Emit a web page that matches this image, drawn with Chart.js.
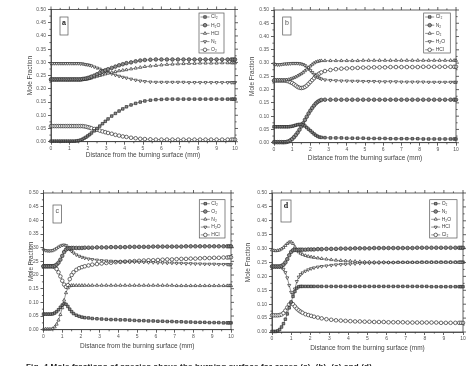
<!DOCTYPE html>
<html>
<head>
<meta charset="utf-8">
<script src="https://cdn.jsdelivr.net/npm/chart.js@4.4.1/dist/chart.umd.min.js"></script>
<style>
html, body { margin: 0; padding: 0; background: #fff; }
body { width: 474px; height: 366px; position: relative; overflow: hidden; font-family: "Liberation Sans", Arial, sans-serif; }
canvas { position: absolute; left: 0; top: 0; }
#cap { position: absolute; left: 26px; top: 362px; font-size: 8px; font-weight: bold; color: #222; white-space: nowrap; letter-spacing: 0.2px; }
</style>
</head>
<body>
<canvas id="pa" width="474" height="366"></canvas>
<canvas id="pb" width="474" height="366"></canvas>
<canvas id="pc" width="474" height="366"></canvas>
<canvas id="pd" width="474" height="366"></canvas>
<div id="cap">Fig. 4 Mole fractions of species above the burning surface for cases (a), (b), (c) and (d)</div>
<script>
// 距離 (mm) と各成分のモル分率 — 図から目で読んだ値

// --- (a) ---
const xA = [0, 0.1, 0.2, 0.3, 0.4, 0.5, 0.6, 0.7, 0.8, 0.9,
    1.0, 1.1, 1.2, 1.3, 1.4, 1.5, 1.6, 1.7, 1.8, 1.9,
    2.0, 2.1, 2.2, 2.35, 2.5, 2.65, 2.8, 2.95, 3.1, 3.3,
    3.5, 3.7, 3.9, 4.1, 4.35, 4.6, 4.85, 5.1, 5.4, 5.7,
    6.0, 6.3, 6.6, 6.9, 7.2, 7.5, 7.8, 8.1, 8.4, 8.7,
    9.0, 9.3, 9.6, 9.8, 9.9, 10];
const a_Cl2 = [0.002, 0.002, 0.002, 0.002, 0.002, 0.002, 0.002, 0.002, 0.002, 0.002,
    0.002, 0.002, 0.002, 0.002, 0.003, 0.004, 0.006, 0.009, 0.013, 0.017,
    0.022, 0.027, 0.033, 0.041, 0.050, 0.059, 0.068, 0.077, 0.086, 0.097,
    0.107, 0.116, 0.124, 0.132, 0.139, 0.145, 0.150, 0.154, 0.157, 0.159,
    0.160, 0.161, 0.161, 0.161, 0.161, 0.161, 0.161, 0.161, 0.161, 0.161,
    0.161, 0.161, 0.161, 0.161, 0.161, 0.161];
const a_H2O = [0.236, 0.236, 0.236, 0.236, 0.236, 0.236, 0.236, 0.236, 0.236, 0.236,
    0.236, 0.236, 0.236, 0.236, 0.236, 0.236, 0.236, 0.237, 0.238, 0.239,
    0.241, 0.243, 0.246, 0.250, 0.255, 0.260, 0.265, 0.270, 0.274, 0.279,
    0.284, 0.289, 0.293, 0.297, 0.300, 0.304, 0.307, 0.309, 0.310, 0.311,
    0.311, 0.311, 0.311, 0.311, 0.311, 0.311, 0.311, 0.311, 0.311, 0.311,
    0.311, 0.311, 0.311, 0.311, 0.311, 0.311];
const a_HCl = [0.233, 0.233, 0.233, 0.233, 0.233, 0.233, 0.233, 0.233, 0.233, 0.233,
    0.233, 0.233, 0.233, 0.233, 0.233, 0.233, 0.233, 0.234, 0.235, 0.236,
    0.237, 0.239, 0.241, 0.244, 0.247, 0.250, 0.253, 0.256, 0.259, 0.262,
    0.265, 0.268, 0.270, 0.272, 0.275, 0.278, 0.281, 0.284, 0.286, 0.288,
    0.290, 0.292, 0.293, 0.294, 0.295, 0.296, 0.296, 0.297, 0.297, 0.297,
    0.297, 0.298, 0.298, 0.298, 0.298, 0.298];
const a_N2 = [0.296, 0.296, 0.296, 0.296, 0.296, 0.296, 0.296, 0.296, 0.296, 0.296,
    0.296, 0.296, 0.296, 0.296, 0.296, 0.296, 0.295, 0.295, 0.293, 0.292,
    0.291, 0.289, 0.287, 0.283, 0.279, 0.275, 0.270, 0.266, 0.262, 0.257,
    0.252, 0.248, 0.244, 0.241, 0.237, 0.233, 0.230, 0.228, 0.226, 0.225,
    0.225, 0.225, 0.225, 0.225, 0.225, 0.224, 0.224, 0.224, 0.224, 0.224,
    0.224, 0.224, 0.224, 0.224, 0.224, 0.224];
const a_O2 = [0.059, 0.059, 0.059, 0.059, 0.059, 0.059, 0.059, 0.059, 0.059, 0.059,
    0.059, 0.059, 0.059, 0.059, 0.059, 0.059, 0.059, 0.059, 0.058, 0.057,
    0.055, 0.053, 0.051, 0.048, 0.045, 0.042, 0.039, 0.036, 0.033, 0.030,
    0.026, 0.023, 0.020, 0.018, 0.015, 0.013, 0.011, 0.010, 0.009, 0.008,
    0.008, 0.008, 0.008, 0.008, 0.008, 0.008, 0.008, 0.008, 0.008, 0.008,
    0.008, 0.008, 0.008, 0.008, 0.008, 0.008];

// --- (b) ---
const xB = [0, 0.1, 0.2, 0.3, 0.4, 0.5, 0.6, 0.7, 0.8, 0.9,
    1.0, 1.1, 1.2, 1.3, 1.4, 1.5, 1.6, 1.7, 1.8, 1.9,
    2.0, 2.1, 2.2, 2.3, 2.4, 2.5, 2.6, 2.8, 3.1, 3.4,
    3.7, 4.0, 4.3, 4.6, 4.9, 5.2, 5.5, 5.8, 6.1, 6.4,
    6.7, 7.0, 7.3, 7.6, 7.9, 8.2, 8.5, 8.8, 9.1, 9.4,
    9.7, 9.9, 10];
const b_Cl2 = [0.060, 0.060, 0.060, 0.060, 0.060, 0.060, 0.060, 0.060, 0.060, 0.061,
    0.062, 0.064, 0.066, 0.068, 0.069, 0.069, 0.067, 0.063, 0.057, 0.051,
    0.045, 0.039, 0.033, 0.028, 0.024, 0.021, 0.020, 0.019, 0.018, 0.018,
    0.018, 0.017, 0.017, 0.017, 0.017, 0.016, 0.016, 0.016, 0.016, 0.015,
    0.015, 0.015, 0.015, 0.015, 0.015, 0.014, 0.014, 0.014, 0.014, 0.014,
    0.014, 0.014, 0.014];
const b_N2 = [0.002, 0.002, 0.002, 0.002, 0.002, 0.002, 0.002, 0.003, 0.005, 0.009,
    0.014, 0.021, 0.029, 0.038, 0.049, 0.061, 0.073, 0.086, 0.098, 0.110,
    0.121, 0.131, 0.140, 0.148, 0.154, 0.158, 0.161, 0.162, 0.162, 0.162,
    0.162, 0.162, 0.162, 0.162, 0.162, 0.162, 0.162, 0.162, 0.162, 0.162,
    0.162, 0.162, 0.162, 0.162, 0.162, 0.162, 0.162, 0.162, 0.162, 0.162,
    0.162, 0.162, 0.162];
const b_O2 = [0.236, 0.236, 0.236, 0.236, 0.236, 0.236, 0.236, 0.237, 0.238, 0.240,
    0.242, 0.245, 0.248, 0.252, 0.256, 0.260, 0.265, 0.271, 0.277, 0.283,
    0.289, 0.295, 0.300, 0.304, 0.306, 0.308, 0.309, 0.309, 0.309, 0.309,
    0.309, 0.309, 0.309, 0.309, 0.310, 0.310, 0.310, 0.310, 0.310, 0.310,
    0.310, 0.310, 0.310, 0.310, 0.310, 0.310, 0.310, 0.310, 0.310, 0.310,
    0.310, 0.310, 0.310];
const b_H2O = [0.297, 0.295, 0.294, 0.294, 0.295, 0.296, 0.297, 0.297, 0.298, 0.298,
    0.299, 0.299, 0.299, 0.299, 0.298, 0.297, 0.295, 0.291, 0.285, 0.279,
    0.272, 0.265, 0.258, 0.252, 0.247, 0.243, 0.240, 0.237, 0.235, 0.234,
    0.233, 0.233, 0.232, 0.232, 0.231, 0.231, 0.231, 0.230, 0.230, 0.230,
    0.230, 0.229, 0.229, 0.229, 0.229, 0.229, 0.228, 0.228, 0.228, 0.228,
    0.228, 0.228, 0.228];
const b_HCl = [0.234, 0.234, 0.234, 0.234, 0.234, 0.234, 0.234, 0.233, 0.231, 0.228,
    0.225, 0.220, 0.215, 0.210, 0.207, 0.206, 0.207, 0.210, 0.215, 0.222,
    0.229, 0.236, 0.243, 0.250, 0.256, 0.261, 0.265, 0.270, 0.274, 0.277,
    0.279, 0.280, 0.281, 0.282, 0.283, 0.283, 0.284, 0.284, 0.284, 0.285,
    0.285, 0.285, 0.285, 0.285, 0.285, 0.286, 0.286, 0.286, 0.286, 0.286,
    0.286, 0.286, 0.286];

// --- (c), (d) は同じ距離の刻み ---
const xC = [0, 0.1, 0.2, 0.3, 0.4, 0.5, 0.6, 0.7, 0.8, 0.9,
    1.0, 1.1, 1.2, 1.3, 1.4, 1.5, 1.6, 1.75, 1.9, 2.05,
    2.2, 2.4, 2.6, 2.85, 3.1, 3.35, 3.6, 3.85, 4.1, 4.35,
    4.6, 4.85, 5.1, 5.35, 5.6, 5.85, 6.1, 6.35, 6.6, 6.85,
    7.1, 7.35, 7.6, 7.85, 8.1, 8.35, 8.6, 8.85, 9.1, 9.35,
    9.6, 9.8, 9.9, 10];
const c_Cl2 = [0.057, 0.057, 0.057, 0.057, 0.057, 0.058, 0.061, 0.066, 0.073, 0.082,
    0.090, 0.095, 0.093, 0.085, 0.075, 0.066, 0.059, 0.053, 0.049, 0.046,
    0.044, 0.043, 0.041, 0.040, 0.039, 0.038, 0.037, 0.037, 0.036, 0.036,
    0.035, 0.034, 0.033, 0.033, 0.032, 0.032, 0.031, 0.031, 0.030, 0.030,
    0.029, 0.029, 0.028, 0.028, 0.027, 0.027, 0.027, 0.026, 0.026, 0.026,
    0.025, 0.025, 0.025, 0.025];
const c_O2 = [0.232, 0.232, 0.232, 0.232, 0.232, 0.232, 0.234, 0.238, 0.245, 0.256,
    0.270, 0.284, 0.293, 0.297, 0.298, 0.299, 0.299, 0.299, 0.299, 0.299,
    0.300, 0.300, 0.300, 0.301, 0.301, 0.301, 0.302, 0.302, 0.302, 0.302,
    0.303, 0.303, 0.303, 0.303, 0.303, 0.304, 0.304, 0.304, 0.304, 0.304,
    0.304, 0.304, 0.305, 0.305, 0.305, 0.305, 0.305, 0.305, 0.305, 0.305,
    0.305, 0.305, 0.305, 0.305];
const c_N2 = [0.002, 0.002, 0.002, 0.002, 0.002, 0.004, 0.010, 0.020, 0.035, 0.055,
    0.080, 0.108, 0.135, 0.153, 0.160, 0.162, 0.162, 0.162, 0.162, 0.162,
    0.162, 0.162, 0.162, 0.162, 0.162, 0.162, 0.162, 0.162, 0.162, 0.162,
    0.162, 0.162, 0.162, 0.162, 0.162, 0.162, 0.162, 0.162, 0.162, 0.162,
    0.161, 0.161, 0.161, 0.161, 0.161, 0.161, 0.161, 0.161, 0.161, 0.161,
    0.161, 0.161, 0.161, 0.161];
const c_H2O = [0.292, 0.290, 0.289, 0.288, 0.289, 0.290, 0.293, 0.297, 0.302, 0.306,
    0.309, 0.310, 0.308, 0.302, 0.294, 0.287, 0.281, 0.274, 0.269, 0.265,
    0.262, 0.259, 0.257, 0.255, 0.253, 0.252, 0.251, 0.250, 0.249, 0.249,
    0.248, 0.248, 0.247, 0.247, 0.246, 0.246, 0.245, 0.245, 0.244, 0.244,
    0.243, 0.243, 0.242, 0.242, 0.241, 0.241, 0.240, 0.240, 0.240, 0.239,
    0.239, 0.239, 0.238, 0.238];
const c_HCl = [0.232, 0.232, 0.232, 0.232, 0.232, 0.232, 0.229, 0.222, 0.210, 0.195,
    0.179, 0.165, 0.157, 0.163, 0.185, 0.200, 0.210, 0.219, 0.225, 0.229,
    0.232, 0.235, 0.238, 0.240, 0.242, 0.244, 0.245, 0.247, 0.248, 0.249,
    0.250, 0.251, 0.252, 0.253, 0.254, 0.254, 0.255, 0.256, 0.257, 0.257,
    0.258, 0.259, 0.259, 0.260, 0.260, 0.261, 0.262, 0.262, 0.263, 0.263,
    0.264, 0.264, 0.265, 0.265];

const d_O2 = [0.002, 0.002, 0.002, 0.004, 0.009, 0.018, 0.030, 0.046, 0.065, 0.087,
    0.108, 0.128, 0.146, 0.158, 0.163, 0.164, 0.164, 0.164, 0.164, 0.164,
    0.164, 0.164, 0.164, 0.164, 0.164, 0.164, 0.164, 0.164, 0.164, 0.164,
    0.164, 0.164, 0.164, 0.164, 0.164, 0.164, 0.164, 0.164, 0.164, 0.164,
    0.164, 0.164, 0.164, 0.164, 0.164, 0.163, 0.163, 0.163, 0.163, 0.163,
    0.163, 0.163, 0.163, 0.163];
const d_N2 = [0.236, 0.236, 0.236, 0.236, 0.236, 0.238, 0.242, 0.250, 0.262, 0.276,
    0.288, 0.294, 0.295, 0.295, 0.296, 0.296, 0.296, 0.296, 0.297, 0.297,
    0.297, 0.298, 0.298, 0.299, 0.299, 0.299, 0.300, 0.300, 0.300, 0.301,
    0.301, 0.301, 0.301, 0.302, 0.302, 0.302, 0.302, 0.302, 0.302, 0.302,
    0.302, 0.302, 0.303, 0.303, 0.303, 0.303, 0.303, 0.303, 0.303, 0.303,
    0.303, 0.303, 0.303, 0.303];
const d_H2O = [0.295, 0.293, 0.292, 0.293, 0.295, 0.299, 0.304, 0.311, 0.318, 0.323,
    0.324, 0.318, 0.306, 0.295, 0.288, 0.283, 0.279, 0.275, 0.272, 0.270,
    0.268, 0.266, 0.264, 0.262, 0.260, 0.258, 0.257, 0.256, 0.255, 0.254,
    0.253, 0.252, 0.252, 0.251, 0.251, 0.251, 0.250, 0.250, 0.250, 0.250,
    0.250, 0.250, 0.250, 0.250, 0.250, 0.250, 0.250, 0.250, 0.250, 0.250,
    0.250, 0.250, 0.250, 0.250];
const d_HCl = [0.234, 0.234, 0.234, 0.234, 0.234, 0.232, 0.226, 0.214, 0.195, 0.168,
    0.143, 0.135, 0.155, 0.182, 0.198, 0.207, 0.213, 0.219, 0.224, 0.228,
    0.231, 0.234, 0.236, 0.238, 0.240, 0.242, 0.243, 0.244, 0.245, 0.246,
    0.247, 0.248, 0.248, 0.249, 0.249, 0.250, 0.250, 0.250, 0.251, 0.251,
    0.251, 0.251, 0.251, 0.252, 0.252, 0.252, 0.252, 0.252, 0.252, 0.252,
    0.252, 0.252, 0.252, 0.252];
const d_Cl2 = [0.060, 0.060, 0.060, 0.060, 0.061, 0.063, 0.068, 0.077, 0.088, 0.099,
    0.104, 0.100, 0.092, 0.084, 0.078, 0.073, 0.069, 0.064, 0.061, 0.058,
    0.055, 0.052, 0.049, 0.046, 0.044, 0.042, 0.041, 0.040, 0.039, 0.038,
    0.038, 0.037, 0.037, 0.036, 0.036, 0.036, 0.035, 0.035, 0.035, 0.035,
    0.034, 0.034, 0.034, 0.034, 0.034, 0.034, 0.034, 0.033, 0.033, 0.033,
    0.033, 0.033, 0.033, 0.033];

// 凡例の並び(図の凡例どおり)
const legendA = ['Cl₂', 'H₂O', 'HCl', 'N₂', 'O₂'];
const legendB = ['Cl₂', 'N₂', 'O₂', 'H₂O', 'HCl'];
const legendC = ['Cl₂', 'O₂', 'N₂', 'H₂O', 'HCl'];
const legendD = ['O₂', 'N₂', 'H₂O', 'HCl', 'Cl₂'];

const xTicks = [0, 1, 2, 3, 4, 5, 6, 7, 8, 9, 10];
const yTickDecimals = 2;

const W = 474, H = 366;
const FONT = '"Liberation Sans", Arial, sans-serif';
Chart.defaults.font.family = FONT;

// 凡例の順番ごとのマーカー (□ ○ △ ▽ ○)
const markers = [
    { style: 'rect', rot: 0, fill: '#8c8c8c' },
    { style: 'circle', rot: 0, fill: '#8c8c8c' },
    { style: 'triangle', rot: 0, fill: '#ffffff' },
    { style: 'triangle', rot: 180, fill: '#ffffff' },
    { style: 'circle', rot: 0, fill: '#ffffff' }
];

// 枠・ミラー目盛り・副目盛り・凡例・パネル記号
const panelDeco = {
    id: 'panelDeco',
    afterDraw(chart, args, o) {
        const { ctx, chartArea: ca, scales } = chart;
        const xs = scales.x, ys = scales.y;
        ctx.save();
        ctx.strokeStyle = '#3c3c3c';
        ctx.lineWidth = 0.8;
        ctx.strokeRect(ca.left, ca.top, ca.right - ca.left, ca.bottom - ca.top);

        ctx.beginPath();
        const xp = xs.ticks.map(t => xs.getPixelForValue(t.value));
        xp.forEach((px, i) => {
            ctx.moveTo(px, ca.top); ctx.lineTo(px, ca.top - 3);
            if (i > 0) {
                const m = (px + xp[i - 1]) / 2;
                ctx.moveTo(m, ca.bottom); ctx.lineTo(m, ca.bottom + 1.6);
                ctx.moveTo(m, ca.top); ctx.lineTo(m, ca.top - 1.6);
            }
        });
        const yp = ys.ticks.map(t => ys.getPixelForValue(t.value));
        yp.forEach((py, i) => {
            ctx.moveTo(ca.right, py); ctx.lineTo(ca.right + 3, py);
            if (i > 0) {
                const m = (py + yp[i - 1]) / 2;
                ctx.moveTo(ca.left, m); ctx.lineTo(ca.left - 1.6, m);
                ctx.moveTo(ca.right, m); ctx.lineTo(ca.right + 1.6, m);
            }
        });
        ctx.stroke();

        // 凡例
        const lg = o.legend;
        const bx = ca.right + lg.dx, by = ca.top + lg.dy;
        ctx.lineWidth = 0.7;
        ctx.strokeStyle = '#555';
        ctx.strokeRect(bx, by, lg.w, lg.h);
        ctx.font = '5px ' + FONT;
        ctx.textBaseline = 'middle';
        chart.data.datasets.forEach((ds, i) => {
            const cy = by + 4 + i * lg.row;
            ctx.strokeStyle = ds.borderColor;
            ctx.lineWidth = ds.borderWidth;
            ctx.beginPath();
            ctx.moveTo(bx + 1.5, cy); ctx.lineTo(bx + 10.5, cy);
            ctx.stroke();
            ctx.fillStyle = ds.pointBackgroundColor;
            ctx.strokeStyle = ds.pointBorderColor;
            ctx.lineWidth = ds.pointBorderWidth;
            Chart.helpers.drawPoint(ctx, {
                pointStyle: ds.pointStyle, rotation: ds.pointRotation,
                radius: ds.pointRadius, borderWidth: ds.pointBorderWidth
            }, bx + 6, cy);
            ctx.fillStyle = '#444';
            ctx.fillText(ds.label, bx + 12, cy);
        });

        // パネル記号 a〜d
        const tg = o.tag;
        const tx = ca.left + tg.dx, ty = ca.top + tg.dy;
        ctx.strokeStyle = '#555';
        ctx.lineWidth = 0.7;
        ctx.strokeRect(tx, ty, tg.w, tg.h);
        ctx.fillStyle = tg.color;
        ctx.font = tg.font;
        ctx.textAlign = 'center';
        ctx.fillText(tg.text, tx + tg.w / 2, ty + 6);
        ctx.restore();
    }
};

function makePanel(p) {
    const lh = 6.5 * 1.2;
    const padLeft = p.yTitleX - lh / 2 - 1;
    const yW = p.area.l - padLeft;
    const padBottom = H - (p.xTitleY + lh / 2 + 1);
    const xH = H - padBottom - p.area.b;

    const datasets = p.series.map((s, i) => ({
        label: p.labels[i],
        data: s.map((v, k) => ({ x: p.x[k], y: v })),
        borderColor: '#4a4a4a',
        borderWidth: 0.6,
        pointStyle: markers[i].style,
        pointRotation: markers[i].rot,
        pointRadius: 1.8,
        pointBorderWidth: 0.65,
        pointBorderColor: '#222',
        pointBackgroundColor: markers[i].fill,
        tension: 0,
        clip: false
    }));

    new Chart(document.getElementById(p.id), {
        type: 'line',
        data: { datasets },
        options: {
            responsive: false,
            animation: false,
            events: [],
            layout: { padding: { left: padLeft, top: p.area.t, right: W - p.area.r, bottom: padBottom } },
            plugins: {
                legend: { display: false },
                tooltip: { enabled: false },
                panelDeco: { legend: p.legend, tag: p.tag }
            },
            scales: {
                x: {
                    type: 'linear', min: 0, max: 10,
                    afterFit: s => { s.height = xH; },
                    afterBuildTicks: s => { s.ticks = xTicks.map(v => ({ value: v })); },
                    border: { display: true, color: '#3c3c3c', width: 0.8 },
                    grid: { display: true, drawOnChartArea: false, drawTicks: true, tickLength: 3, color: '#3c3c3c', lineWidth: 0.8 },
                    ticks: { font: { size: 5 }, color: '#555', padding: 0.5, maxRotation: 0, autoSkip: false },
                    title: { display: true, text: 'Distance from the burning surface (mm)', font: { size: 6.5 }, color: '#444', padding: { top: 1, bottom: 1 } }
                },
                y: {
                    type: 'linear', min: 0, max: 0.5,
                    afterFit: s => { s.width = yW; },
                    border: { display: true, color: '#3c3c3c', width: 0.8 },
                    grid: { display: true, drawOnChartArea: false, drawTicks: true, tickLength: 3, color: '#3c3c3c', lineWidth: 0.8 },
                    ticks: { stepSize: 0.05, font: { size: 5 }, color: '#555', padding: 2, autoSkip: false,
                        callback: v => Number(v).toFixed(yTickDecimals) },
                    title: { display: true, text: 'Mole Fraction', font: { size: 6.5 }, color: '#444', padding: { top: 1, bottom: 1 } }
                }
            }
        },
        plugins: [panelDeco]
    });
}

makePanel({
    id: 'pa', x: xA, series: [a_Cl2, a_H2O, a_HCl, a_N2, a_O2], labels: legendA,
    area: { l: 51, t: 9.5, r: 235, b: 141.7 }, yTitleX: 30, xTitleY: 155.3,
    legend: { dx: -36, dy: 3.5, w: 25, h: 40, row: 8.2 },
    tag: { dx: 9, dy: 7.5, w: 8, h: 18, text: 'a', font: 'bold 7px ' + FONT, color: '#222' }
});
makePanel({
    id: 'pb', x: xB, series: [b_Cl2, b_N2, b_O2, b_H2O, b_HCl], labels: legendB,
    area: { l: 274, t: 10, r: 456, b: 142.7 }, yTitleX: 252, xTitleY: 158.3,
    legend: { dx: -32.3, dy: 3, w: 26.6, h: 40, row: 8.2 },
    tag: { dx: 8.7, dy: 7, w: 8.3, h: 18, text: 'b', font: '7px ' + FONT, color: '#555' }
});
makePanel({
    id: 'pc', x: xC, series: [c_Cl2, c_O2, c_N2, c_H2O, c_HCl], labels: legendC,
    area: { l: 43.5, t: 193, r: 231, b: 329.7 }, yTitleX: 31, xTitleY: 346.3,
    legend: { dx: -31.7, dy: 6.7, w: 25.7, h: 38.3, row: 7.8 },
    tag: { dx: 9.5, dy: 12, w: 8.5, h: 18, text: 'c', font: '7px ' + FONT, color: '#555' }
});
makePanel({
    id: 'pd', x: xC, series: [d_O2, d_N2, d_H2O, d_HCl, d_Cl2], labels: legendD,
    area: { l: 272, t: 193, r: 463, b: 332 }, yTitleX: 248.7, xTitleY: 348,
    legend: { dx: -33.3, dy: 6.7, w: 27.3, h: 38.3, row: 7.8 },
    tag: { dx: 9, dy: 7, w: 10, h: 22, text: 'd', font: 'bold 8px "Liberation Serif", serif', color: '#222' }
});
</script>
</body>
</html>
